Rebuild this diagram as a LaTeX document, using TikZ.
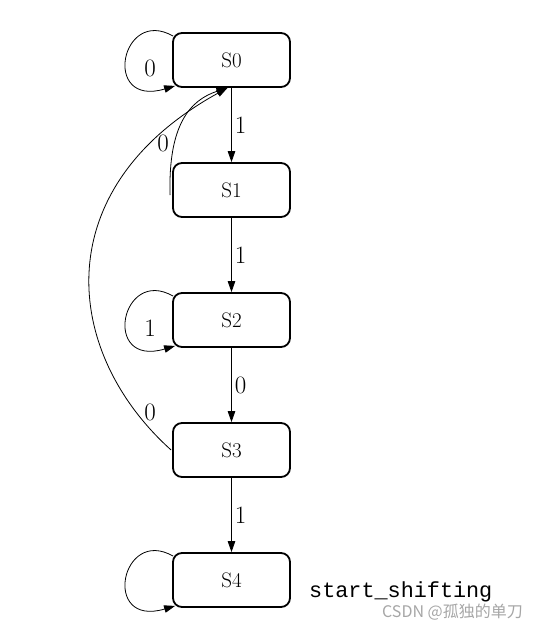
\documentclass[tikz,border=0pt]{standalone}
\usepackage{fontspec}
\newfontfamily\cjkfont{Noto Sans CJK SC}
\setmonofont{Liberation Mono}
\usetikzlibrary{arrows.meta}
\begin{document}
\begin{tikzpicture}[x=1pt,y=-1pt,
  state/.style={draw,line width=1.8pt,rounded corners=9pt,minimum width=117pt,minimum height=54pt,inner sep=0pt,font=\fontsize{21}{24}\selectfont},
  edge/.style={line width=0.8pt,-{Triangle[length=11pt,width=7.5pt]}},
  lbl/.style={font=\fontsize{25}{28}\selectfont,inner sep=2pt}]
\useasboundingbox (0,0) rectangle (535,627);
\node[state] (s0) at (231.5,60) {S0};
\node[state] (s1) at (231.5,190) {S1};
\node[state] (s2) at (231.5,320) {S2};
\node[state] (s3) at (231.5,450) {S3};
\node[state] (s4) at (231.5,580) {S4};
% vertical transitions
\draw[edge] (s0.south) -- node[lbl,right=1pt] {1} (s1.north);
\draw[edge] (s1.south) -- node[lbl,right=1pt] {1} (s2.north);
\draw[edge] (s2.south) -- node[lbl,right=1pt] {0} (s3.north);
\draw[edge] (s3.south) -- node[lbl,right=1pt] {1} (s4.north);
% self loops
\foreach \s in {s0,s2,s4}{
  \draw[edge] ([xshift=1pt,yshift=-4pt]\s.north west) .. controls +(-52,-30) and +(-74,22) .. ([xshift=3pt,yshift=2pt]\s.south west);
}
\node[lbl] (l0) at (150,68) {0};
\node[lbl] (l2) at (150,328) {1};
% back transitions
\draw[edge] ([xshift=-2pt,yshift=-5pt]s1.west) .. controls (168,125) and (190,100) .. ([xshift=-4pt]s0.south);
\node[lbl] (b1) at (163,143) {0};
\draw[edge] ([xshift=-1pt]s3.west) .. controls (62,352) and (46,188) .. ([xshift=-4pt]s0.south);
\node[lbl] (b3) at (150,412) {0};
% output text
\node[anchor=base west,inner sep=0pt,font=\ttfamily\fontsize{21.8}{24}\selectfont] (out) at (309,597) {start\_shifting};
\node[anchor=base west,inner sep=0pt,text=black!35,font=\cjkfont\fontsize{16}{18}\selectfont] (wm) at (382,617) {CSDN @孤独的单刀};
\end{tikzpicture}
\end{document}
